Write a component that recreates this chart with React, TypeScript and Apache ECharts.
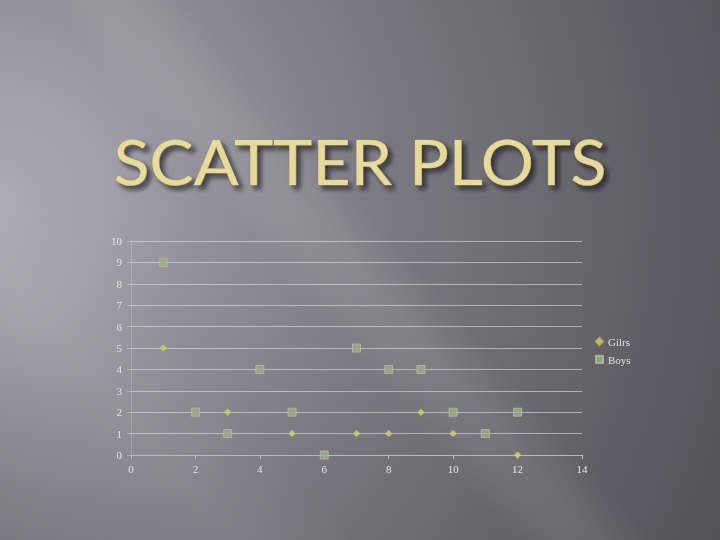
import React, { useEffect, useRef } from "react";
import * as echarts from "echarts";

const titleText = "SCATTER PLOTS";
const girlsLabel = "Gilrs";
const boysLabel = "Boys";
const girlsX = [1, 3, 5, 7, 8, 9, 10, 12];
const girlsY = [5, 2, 1, 1, 1, 2, 1, 0];
const boysX = [1, 2, 3, 4, 5, 6, 7, 8, 9, 10, 11, 12];
const boysY = [9, 2, 1, 4, 2, 0, 5, 4, 4, 2, 1, 2];
const xMin = 0, xMax = 14, xStep = 2;
const yMin = 0, yMax = 10, yStep = 1;

export default function App() {
  const ref = useRef<HTMLDivElement>(null);
  useEffect(() => {
    document.body.style.margin = "0";
    const chart = echarts.init(ref.current!, null, { renderer: "svg" });
    const serif = "'Liberation Serif', 'DejaVu Serif', serif";
    const labelColor = "#e4e4e8";
    chart.setOption({
      animation: false,
      backgroundColor: "transparent",
      graphic: [
        {
          type: "text",
          x: 360,
          y: 161,
          scaleX: 1.07,
          style: {
            text: titleText,
            align: "center",
            verticalAlign: "middle",
            font: "62px Lato, 'Open Sans', sans-serif",
            fill: "#e8da9a",
            stroke: "#a8975a",
            lineWidth: 0.7,
            textShadowColor: "rgba(25,25,30,0.7)",
            textShadowBlur: 5,
            textShadowOffsetX: 4,
            textShadowOffsetY: 4,
          },
        },
      ],
      grid: { left: 131, right: 138, top: 241, bottom: 85, containLabel: false },
      legend: {
        orient: "vertical",
        left: 590,
        top: 331,
        itemWidth: 7,
        itemHeight: 7,
        itemGap: 7,
        textStyle: { color: labelColor, fontFamily: serif, fontSize: 11 },
        data: [
          { name: girlsLabel, icon: "diamond" },
          { name: boysLabel, icon: "rect" },
        ],
      },
      xAxis: {
        type: "value",
        min: xMin,
        max: xMax,
        interval: xStep,
        axisLine: { show: true, lineStyle: { color: "#b8b8be", width: 1 } },
        axisTick: { show: true, length: 4, lineStyle: { color: "#b8b8be" } },
        axisLabel: { color: labelColor, fontFamily: serif, fontSize: 11, margin: 8 },
        splitLine: { show: false },
      },
      yAxis: {
        type: "value",
        min: yMin,
        max: yMax,
        interval: yStep,
        axisLine: { show: true, lineStyle: { color: "rgba(200,200,206,0.35)", width: 1 } },
        axisTick: { show: true, length: 4, lineStyle: { color: "rgba(200,200,206,0.6)" } },
        axisLabel: { color: labelColor, fontFamily: serif, fontSize: 11, margin: 9 },
        splitLine: { show: true, lineStyle: { color: "rgba(210,210,216,0.7)", width: 1 } },
      },
      series: [
        {
          name: girlsLabel,
          type: "scatter",
          symbol: "diamond",
          symbolSize: 7,
          itemStyle: { color: "#dacf64", borderColor: "#c6ba4e", borderWidth: 0.5 },
          data: girlsX.map((x, i) => [x, girlsY[i]]),
          z: 3,
        },
        {
          name: boysLabel,
          type: "scatter",
          symbol: "rect",
          symbolSize: 8,
          itemStyle: { color: "#9fae86", borderColor: "#b4c09c", borderWidth: 1 },
          data: boysX.map((x, i) => [x, boysY[i]]),
          z: 2,
        },
      ],
    });
    return () => chart.dispose();
  }, []);
  return (
    <div
      ref={ref}
      style={{
        position: "fixed",
        left: 0,
        top: 0,
        width: 720,
        height: 540,
        background:
          "linear-gradient(49deg, rgba(255,255,255,0) 43%, rgba(255,255,255,0.07) 47%, rgba(255,255,255,0.08) 50%, rgba(255,255,255,0) 55%), " +
          "linear-gradient(49deg, rgba(0,0,0,0.06) 0%, rgba(255,255,255,0) 12%, rgba(255,255,255,0.05) 20%, rgba(255,255,255,0) 30%), " +
          "radial-gradient(circle at 0px 200px, #aaa9b1 0px, #a3a2aa 100px, #908f97 220px, #7a7981 400px, #69686f 560px, #5d5c64 680px, #505057 820px)",
      }}
    />
  );
}
